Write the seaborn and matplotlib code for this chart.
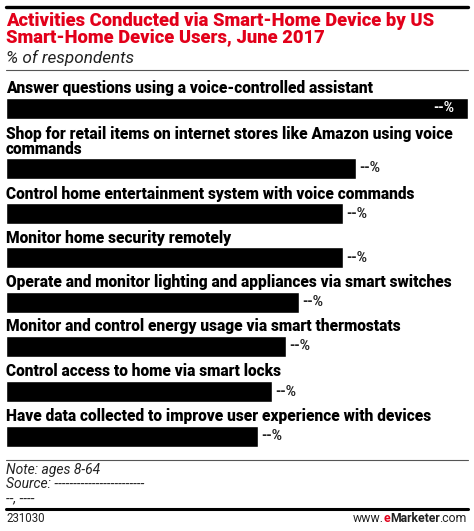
import matplotlib
matplotlib.use("Agg")
import matplotlib.pyplot as plt
import seaborn as sns
import pandas as pd

categories = [
    "Answer questions using a voice-controlled assistant",
    "Shop for retail items on internet stores like Amazon using voice\ncommands",
    "Control home entertainment system with voice commands",
    "Monitor home security remotely",
    "Operate and monitor lighting and appliances via smart switches",
    "Monitor and control energy usage via smart thermostats",
    "Control access to home via smart locks",
    "Have data collected to improve user experience with devices",
]
values = [46.2, 35.0, 33.7, 33.7, 29.3, 28.0, 26.6, 25.2]
value_labels = ["--%"] * len(values)

title = "Activities Conducted via Smart-Home Device by US\nSmart-Home Device Users, June 2017"
subtitle = "% of respondents"
note_lines = ["Note: ages 8-64", "Source: ------------------------", "--, ----"]
chart_id = "231030"

sns.set_theme(style="white")
plt.rcParams["font.family"] = ["Roboto", "DejaVu Sans"]

W, H = 474, 531
fig = plt.figure(figsize=(W / 100, H / 100), dpi=100)
fig.patch.set_facecolor("white")

def fx(x):
    return x / W

def fy(y):
    return 1 - y / H

RED = "#e2001a"
DARK = "#222222"

# header rules
fig.add_artist(plt.Line2D([fx(6), fx(468)], [fy(6.5), fy(6.5)], color="black", lw=2.4))
fig.add_artist(plt.Line2D([fx(6), fx(468)], [fy(70), fy(70)], color="#555555", lw=0.8))

# title and subtitle
fig.text(fx(6), fy(26), title.split("\n")[0], color=RED, fontsize=13.2, fontweight="heavy", va="baseline")
fig.text(fx(6), fy(42.5), title.split("\n")[1], color=RED, fontsize=13.2, fontweight="heavy", va="baseline")
fig.text(fx(6), fy(62.5), subtitle, color=DARK, fontsize=12.3, style="italic", va="baseline")

bar_tops = [98, 158, 203, 247, 292, 336, 381, 426]
bar_h = 21
df = pd.DataFrame({"activity": categories, "value": values, "label": value_labels})

for i, row in df.iterrows():
    top = bar_tops[i]
    ax = fig.add_axes([fx(6), fy(top + bar_h), fx(468) - fx(6), bar_h / H])
    sns.barplot(data=df.iloc[[i]], x="value", y="activity", color="black",
                width=1.0, orient="h", ax=ax, saturation=1)
    ax.set_xlim(0, max(values))
    ax.set_ylim(0.5, -0.5)
    ax.axis("off")
    if i == 0:
        ax.annotate(row["label"], xy=(row["value"], 0), xytext=(-10, 0),
                    textcoords="offset points", ha="right", va="center",
                    color="white", fontsize=10, fontweight="bold")
    else:
        ax.annotate(row["label"], xy=(row["value"], 0), xytext=(2.5, 0),
                    textcoords="offset points", ha="left", va="center",
                    color=DARK, fontsize=10, fontweight="bold")
    lines = row["activity"].split("\n")
    for j, line in enumerate(reversed(lines)):
        fig.text(fx(6), fy(top - 4.5 - j * 14.5), line, color="black",
                 fontsize=11.2, fontweight="heavy", va="baseline")

# footer
fig.add_artist(plt.Line2D([fx(6), fx(468)], [fy(460), fy(460)], color="#555555", lw=0.8))
for k, line in enumerate(note_lines):
    fig.text(fx(6), fy(474 + k * 14.5), line, color=DARK, fontsize=10, style="italic", va="baseline")
fig.add_artist(plt.Line2D([fx(6), fx(468)], [fy(508.5), fy(508.5)], color="black", lw=2.2))
fig.text(fx(6), fy(522.5), chart_id, color=DARK, fontsize=8.3, va="baseline")

# eMarketer logo text, right-aligned
pieces = [("www.", DARK, "normal"), ("e", RED, "bold"), ("Marketer", DARK, "bold"), (".com", DARK, "normal")]
renderer = fig.canvas.get_renderer()
texts = []
for s, c, w in pieces:
    t = fig.text(0, fy(522.5), s, color=c, fontsize=8.8, fontweight=w, va="baseline")
    texts.append(t)
widths = [t.get_window_extent(renderer).width for t in texts]
x = 467 - sum(widths)
for t, w in zip(texts, widths):
    t.set_x(fx(x))
    x += w

fig.savefig("out.png", dpi=100, facecolor="white")
